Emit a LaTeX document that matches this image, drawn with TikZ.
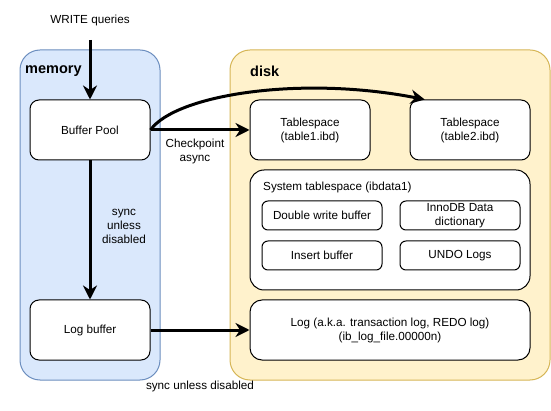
\documentclass[tikz,border=0pt]{standalone}
\usepackage{fontspec}
\setmainfont{Liberation Sans}
\usetikzlibrary{arrows.meta}
\definecolor{memfill}{HTML}{DAE8FC}
\definecolor{memline}{HTML}{6C8EBF}
\definecolor{diskfill}{HTML}{FFF2CC}
\definecolor{diskline}{HTML}{D6B656}
\tikzset{
  every node/.style={font=\fontsize{11.7}{14}\selectfont, inner sep=0pt},
  zone/.style={rounded corners=20pt, line width=1pt},
  zonetitle/.style={anchor=west, font=\fontsize{14.5}{16}\selectfont\bfseries},
  box/.style={draw=black, fill=white, rounded corners=9pt, line width=1pt,
    minimum width=120pt, minimum height=60pt, align=center},
  smallbox/.style={box, minimum height=29pt, rounded corners=6pt},
  flow/.style={line width=3pt, -{Stealth[length=14pt,width=14pt,inset=4.5pt]}},
}
\begin{document}
\begin{tikzpicture}[x=1pt,y=-1pt]
  \useasboundingbox[fill=white] (0,0) rectangle (551,411);
  % the two zones
  \node[zone, draw=memline, fill=memfill, minimum width=140pt, minimum height=330pt] (mem) at (90,215) {};
  \node[zone, draw=diskline, fill=diskfill, minimum width=320pt, minimum height=330pt] (disk) at (390,215) {};
  \node[zonetitle] at (25,71) {memory};
  \node[zonetitle] at (250,71) {disk};
  % memory
  \node (write) at (90,20) {WRITE queries};
  \coordinate (entry) at (90,40);
  \node[box] (pool) at (90,130) {Buffer Pool};
  \node[box] (logbuf) at (90,330) {Log buffer};
  % disk
  \node[box] (tbl1) at (310,130) {Tablespace\\(table1.ibd)};
  \node[box] (tbl2) at (470,130) {Tablespace\\(table2.ibd)};
  \node[box, minimum width=280pt, minimum height=120pt, rounded corners=14pt] (systs) at (390,230) {};
  \node[anchor=west] at (263,187) {System tablespace (ibdata1)};
  \node[smallbox] (dwb) at (322,215.5) {Double write buffer};
  \node[smallbox] (dict) at (460,215.5) {InnoDB Data\\dictionary};
  \node[smallbox] (insbuf) at (322,255.5) {Insert buffer};
  \node[smallbox] (undo) at (460,255.5) {UNDO Logs};
  \node[box, minimum width=280pt, rounded corners=12pt] (redo) at (390,330) {Log (a.k.a. transaction log, REDO log)\\(ib\_log\_file.00000n)};
  % arrows
  \draw[flow] (entry) -- (pool.north);
  \draw[flow] (pool.south) -- (logbuf.north);
  \node[align=center] at (124,226) {sync\\unless\\disabled};
  \draw[flow] (pool.east) -- (tbl1.west)
    node[midway, below=8pt, xshift=-5pt, align=center] {Checkpoint\\async};
  \draw[flow] (pool.east) .. controls (175,95) and (300,75) .. (tbl2.146);
  \draw[flow] (logbuf.east) -- (redo.west);
  \node at (200,386) {sync unless disabled};
\end{tikzpicture}
\end{document}
